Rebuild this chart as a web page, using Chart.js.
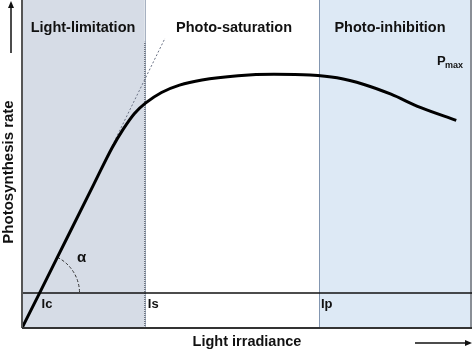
<!DOCTYPE html>
<html>
<head>
<meta charset="utf-8">
<script src="https://cdn.jsdelivr.net/npm/chart.js@4/dist/chart.umd.min.js"></script>
<style>
  body { margin: 0; background: #fff; }
  #wrap { width: 474px; height: 351px; position: relative; }
</style>
</head>
<body>
<div id="wrap"><canvas id="piChart" width="474" height="351"></canvas></div>
<script>
// light irradiance (arbitrary units) and photosynthesis rate
const irradiance = [0, 3.9, 10, 16, 20, 22.5, 25, 27.5, 31, 35, 40, 48, 56, 64, 70, 76, 82, 88.5, 96.5];
const rate       = [-10, 0, 15.8, 31.3, 41.6, 47, 51.5, 54.5, 57.5, 59.6, 61.1, 62.3, 62.7, 62.5, 61.7, 59.8, 57, 53.2, 49.5];

// initial slope (alpha) tangent, dotted
const tangentX = [17.3, 31.8];
const tangentY = [35, 73.1];

// characteristic irradiances
const markNames = ['Ic', 'Is', 'Ip'];
const markX = [3.9, 27.3, 66];

// zones along the irradiance axis
const zoneNames = ['Light-limitation', 'Photo-saturation', 'Photo-inhibition'];
const zoneStart = [0, 27.3, 66];
const zoneEnd = [27.3, 66, 100];
const zoneColors = ['#d6dce6', '#ffffff', '#dde9f5'];

const xMin = 0, xMax = 100, yMin = -10, yMax = 84;

const font = "'Liberation Sans', Arial, sans-serif";

const decor = {
    id: 'decor',
    beforeDatasetsDraw(chart) {
        const ctx = chart.ctx, x = chart.scales.x, y = chart.scales.y;
        const top = chart.chartArea.top, bottom = chart.chartArea.bottom;
        ctx.save();
        zoneStart.forEach((s, i) => {
            ctx.fillStyle = zoneColors[i];
            ctx.fillRect(x.getPixelForValue(s), top, x.getPixelForValue(zoneEnd[i]) - x.getPixelForValue(s), bottom - top);
        });
        // zone borders
        ctx.lineWidth = 1;
        ctx.strokeStyle = '#a7b1c1';
        let px = Math.round(x.getPixelForValue(markX[1])) + 0.5;
        ctx.beginPath(); ctx.moveTo(px, top); ctx.lineTo(px, bottom); ctx.stroke();
        ctx.strokeStyle = '#8396b0';
        px = Math.round(x.getPixelForValue(markX[2])) + 0.5;
        ctx.beginPath(); ctx.moveTo(px, top); ctx.lineTo(px, bottom); ctx.stroke();
        ctx.strokeStyle = '#8a8f96';
        ctx.lineWidth = 2;
        px = x.getPixelForValue(xMax) - 1;
        ctx.beginPath(); ctx.moveTo(px, top); ctx.lineTo(px, bottom); ctx.stroke();

        // alpha arc
        const cx = x.getPixelForValue(markX[0]), cy = y.getPixelForValue(0);
        const sx = x.getPixelForValue(irradiance[3]) - x.getPixelForValue(irradiance[0]);
        const sy = y.getPixelForValue(rate[0]) - y.getPixelForValue(rate[3]);
        const ang = Math.atan2(sy, sx);
        ctx.strokeStyle = '#333';
        ctx.lineWidth = 1;
        ctx.setLineDash([3, 2]);
        ctx.beginPath(); ctx.arc(cx, cy, 40, -ang, 0); ctx.stroke();
        ctx.restore();
    },
    afterDraw(chart) {
        const ctx = chart.ctx, x = chart.scales.x, y = chart.scales.y;
        const area = chart.chartArea;
        ctx.save();
        // axes
        ctx.strokeStyle = '#555';
        ctx.lineWidth = 2;
        ctx.beginPath(); ctx.moveTo(area.left, area.top); ctx.lineTo(area.left, area.bottom); ctx.stroke();
        ctx.strokeStyle = '#333';
        ctx.beginPath(); ctx.moveTo(area.left, area.bottom); ctx.lineTo(area.right, area.bottom); ctx.stroke();

        ctx.fillStyle = '#111';
        ctx.textBaseline = 'middle';
        ctx.textAlign = 'center';
        ctx.font = 'bold 14.5px ' + font;
        const titleX = [83, 234, 390];
        zoneNames.forEach((n, i) => ctx.fillText(n, titleX[i], 28));

        // marker labels
        ctx.textAlign = 'left';
        ctx.font = 'bold 13px ' + font;
        const off = [2, 3, 2];
        markNames.forEach((n, i) => ctx.fillText(n, x.getPixelForValue(markX[i]) + off[i], 304));

        // alpha
        ctx.font = 'bold 15px ' + font;
        ctx.fillText('α', 77, 258);

        // Pmax
        ctx.font = 'bold 13px ' + font;
        ctx.fillText('P', 437, 61);
        ctx.font = 'bold 9px ' + font;
        ctx.fillText('max', 445, 66);

        // axis titles
        ctx.font = 'bold 14.5px ' + font;
        ctx.textAlign = 'center';
        ctx.fillText('Light irradiance', 247, 342);
        ctx.save();
        ctx.translate(9, 172);
        ctx.rotate(-Math.PI / 2);
        ctx.font = 'bold 15px ' + font;
        ctx.fillText('Photosynthesis rate', 0, 0);
        ctx.restore();

        // arrows
        ctx.strokeStyle = '#111';
        ctx.fillStyle = '#111';
        ctx.lineWidth = 1.5;
        ctx.beginPath(); ctx.moveTo(11, 53); ctx.lineTo(11, 4); ctx.stroke();
        ctx.beginPath(); ctx.moveTo(11, 1); ctx.lineTo(8, 8); ctx.lineTo(14, 8); ctx.closePath(); ctx.fill();
        ctx.beginPath(); ctx.moveTo(415, 343); ctx.lineTo(468, 343); ctx.stroke();
        ctx.beginPath(); ctx.moveTo(472, 343); ctx.lineTo(465, 340); ctx.lineTo(465, 346); ctx.closePath(); ctx.fill();
        ctx.restore();
    }
};

new Chart(document.getElementById('piChart').getContext('2d'), {
    type: 'line',
    data: {
        datasets: [
            {
                label: 'P-I curve',
                data: irradiance.map((v, i) => ({ x: v, y: rate[i] })),
                borderColor: '#000',
                borderWidth: 3,
                pointRadius: 0,
                cubicInterpolationMode: 'monotone'
            },
            {
                label: 'alpha tangent',
                data: tangentX.map((v, i) => ({ x: v, y: tangentY[i] })),
                borderColor: '#6a7285',
                borderWidth: 1,
                borderDash: [2, 2],
                pointRadius: 0
            },
            {
                label: 'zero',
                data: [{ x: xMin, y: 0 }, { x: xMax, y: 0 }],
                borderColor: '#111',
                borderWidth: 1.5,
                pointRadius: 0
            },
            {
                label: 'Is',
                data: [{ x: markX[1], y: yMin }, { x: markX[1], y: 72 }],
                borderColor: '#333a48',
                borderWidth: 1,
                borderDash: [1, 1],
                pointRadius: 0
            }
        ]
    },
    options: {
        responsive: false,
        animation: false,
        layout: { padding: { left: 22, right: 2, top: 0, bottom: 23 } },
        plugins: { legend: { display: false }, tooltip: { enabled: false } },
        scales: {
            x: { type: 'linear', min: xMin, max: xMax, display: false },
            y: { type: 'linear', min: yMin, max: yMax, display: false }
        }
    },
    plugins: [decor]
});
</script>
</body>
</html>
